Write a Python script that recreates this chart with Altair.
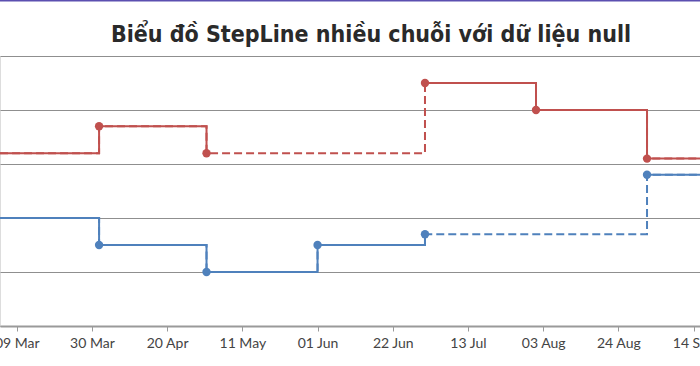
import altair as alt
import pandas as pd

# ---- data ----
months = ["2017-03-01", "2017-04-01", "2017-05-01", "2017-06-01",
          "2017-07-01", "2017-08-01", "2017-09-01", "2017-10-01"]
series_red = [32, 37, 32, None, 45, 40, 31, 31]
series_blue = [20, 15, 10, 15, 17, None, 28, 28]
series_names = ["Chuỗi 1", "Chuỗi 2"]
series_colors = ["#C0504E", "#4F81BC"]

tick_dates = ["2017-03-09", "2017-03-30", "2017-04-20", "2017-05-11", "2017-06-01",
              "2017-06-22", "2017-07-13", "2017-08-03", "2017-08-24", "2017-09-14"]

title_text = "Biểu đồ StepLine nhiều chuỗi với dữ liệu null"

# ---- build table ----
rows = []
for name, vals in zip(series_names, [series_red, series_blue]):
    seg = 0
    prev_null = False
    for d, v in zip(months, vals):
        if v is None:
            prev_null = True
            rows.append({"date": d + "T00:00:00", "value": None, "series": name, "seg": None})
            continue
        if prev_null:
            seg += 1
            prev_null = False
        rows.append({"date": d + "T00:00:00", "value": v, "series": name, "seg": f"{name}-{seg}"})
df = pd.DataFrame(rows)
df_valid = df[df["value"].notna()].copy()

def dt(s):
    y, m, d = [int(p) for p in s.split("-")]
    return alt.DateTime(year=y, month=m, date=d)

W, H = 700, 270

x_enc = alt.X(
    "date:T",
    scale=alt.Scale(domain=[alt.DateTime(year=2017, month=3, date=4, hours=8),
                            alt.DateTime(year=2017, month=9, date=15, hours=19)]),
    axis=alt.Axis(
        title=None,
        values=[dt(s) for s in tick_dates],
        format="%d %b",
        grid=False,
        domainColor="#9a9a9a",
        domainWidth=2,
        tickColor="#9a9a9a",
        tickSize=5,
        labelFont="Lato",
        labelFontSize=14,
        labelColor="#444444",
        labelPadding=5,
        labelOverlap=False,
    ),
)
y_enc = alt.Y(
    "value:Q",
    scale=alt.Scale(domain=[0, 50], nice=False, zero=True),
    axis=alt.Axis(
        title=None,
        values=[0, 10, 20, 30, 40, 50],
        labels=False,
        ticks=False,
        domain=False,
        grid=True,
        gridColor="#8f8f8f",
        gridWidth=1,
    ),
)
color_enc = alt.Color("series:N", scale=alt.Scale(domain=series_names, range=series_colors), legend=None)

dashed = alt.Chart(df_valid).mark_line(
    interpolate="step-after", strokeWidth=2, strokeDash=[8, 4], clip=True
).encode(x=x_enc, y=y_enc, color=color_enc, detail="series:N")

solid = alt.Chart(df_valid).mark_line(
    interpolate="step-after", strokeWidth=2, clip=True
).encode(x=x_enc, y=y_enc, color=color_enc, detail="seg:N")

points = alt.Chart(df_valid).mark_circle(size=70, opacity=1, clip=True).encode(
    x=x_enc, y=y_enc, color=color_enc
)

top_bar = alt.Chart(pd.DataFrame({"a": [0]})).mark_rule(
    color="#5B4FB0", strokeWidth=3
).encode(x=alt.value(0), x2=alt.value(W), y=alt.value(-56))

chart = alt.layer(dashed, solid, points, top_bar).properties(
    width=W,
    height=H,
    title=alt.TitleParams(
        text=title_text,
        font="DejaVu Sans Condensed",
        fontSize=23,
        fontWeight="bold",
        color="#2a2a2a",
        anchor="middle",
        baseline="alphabetic",
        offset=14,
        dx=21,
        dy=80.5,
    ),
    autosize=alt.AutoSizeParams(type="none"),
    padding={"left": 0, "top": 56, "right": 0, "bottom": 40},
).configure_view(stroke=None).configure(background="white")

chart.save("out.html", embed_options={"renderer": "svg", "actions": False})
